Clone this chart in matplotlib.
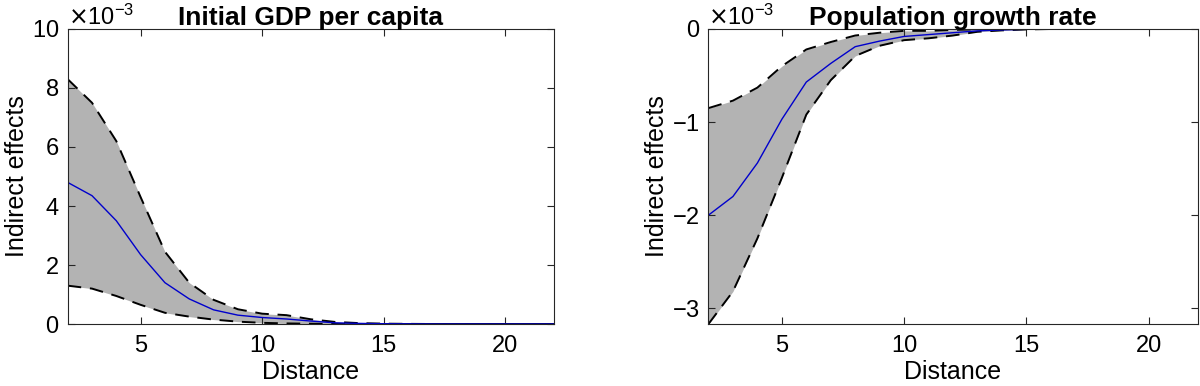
"""Indirect effects by distance: GDP per capita and population growth."""
import matplotlib

matplotlib.use("Agg")
import matplotlib.pyplot as plt
import numpy as np

plt.rcParams["font.family"] = ["Liberation Sans", "DejaVu Sans"]
plt.rcParams["axes.unicode_minus"] = False

distance = list(range(2, 23))

# Initial GDP per capita (x 1e-3)
gdp_mean = [4.8, 4.35, 3.5, 2.35, 1.4, 0.85, 0.48, 0.3, 0.22, 0.17, 0.1,
            0.04, 0.02, 0.01, 0.005, 0.0, 0.0, 0.0, 0.0, 0.0, 0.0]
gdp_upper = [8.3, 7.5, 6.2, 4.3, 2.45, 1.4, 0.82, 0.5, 0.35, 0.3, 0.16,
             0.07, 0.03, 0.012, 0.005, 0.0, 0.0, 0.0, 0.0, 0.0, 0.0]
gdp_lower = [1.3, 1.2, 0.95, 0.65, 0.38, 0.25, 0.15, 0.08, 0.04, 0.02, 0.01,
             0.0, 0.0, 0.0, 0.0, 0.0, 0.0, 0.0, 0.0, 0.0, 0.0]

# Population growth rate (x 1e-3)
pop_mean = [-2.0, -1.8, -1.44, -0.97, -0.57, -0.37, -0.19, -0.13, -0.08, -0.06, -0.04,
            -0.02, -0.01, -0.003, 0.0, 0.0, 0.0, 0.0, 0.0, 0.0, 0.0]
pop_upper = [-0.85, -0.77, -0.63, -0.4, -0.22, -0.14, -0.07, -0.04, -0.02, -0.02, -0.01,
             -0.004, -0.002, 0.0, 0.0, 0.0, 0.0, 0.0, 0.0, 0.0, 0.0]
pop_lower = [-3.17, -2.82, -2.25, -1.6, -0.92, -0.55, -0.29, -0.18, -0.12, -0.1, -0.07,
             -0.03, -0.015, -0.005, 0.0, 0.0, 0.0, 0.0, 0.0, 0.0, 0.0]

panels = [
    ("Initial GDP per capita", gdp_mean, gdp_upper, gdp_lower, (0, 10e-3), [0, 2e-3, 4e-3, 6e-3, 8e-3, 10e-3]),
    ("Population growth rate", pop_mean, pop_upper, pop_lower, (-3.17e-3, 0), [-3e-3, -2e-3, -1e-3, 0]),
]

fig = plt.figure(figsize=(12, 3.86), dpi=100)
positions = [[0.0564, 0.1606, 0.4053, 0.7643], [0.5904, 0.1606, 0.4076, 0.7643]]

for pos, (title, mean, upper, lower, ylim, yticks) in zip(positions, panels):
    ax = fig.add_axes(pos)
    x = np.array(distance)
    m, u, l = (np.array(v) * 1e-3 for v in (mean, upper, lower))
    ax.fill_between(x, l, u, color="#b3b3b3", lw=0)
    ax.plot(x, u, "k--", lw=1.4, dashes=(7, 4.5))
    ax.plot(x, l, "k--", lw=1.4, dashes=(7, 4.5))
    ax.plot(x, m, color="#0000cc", lw=1.0)
    ax.set_xlim(2, 22)
    ax.set_ylim(*ylim)
    ax.set_xticks([5, 10, 15, 20])
    ax.set_yticks(yticks)
    ax.ticklabel_format(axis="y", style="sci", scilimits=(-3, -3), useMathText=True)
    ax.yaxis.get_offset_text().set_fontsize(17)
    ax.tick_params(direction="in", top=True, right=True, labelsize=17,
                   length=5, width=0.8, color="#262626")
    ax.tick_params(axis="x", pad=8)
    ax.tick_params(axis="y", pad=6)
    for s in ax.spines.values():
        s.set_color("#262626")
        s.set_linewidth(0.8)
    ax.set_title(title, fontsize=19, fontweight="bold", pad=3)
    ax.set_xlabel("Distance", fontsize=18, labelpad=2)
    ax.set_ylabel("Indirect effects", fontsize=18, labelpad=2)

fig.savefig("out.png", dpi=100)
